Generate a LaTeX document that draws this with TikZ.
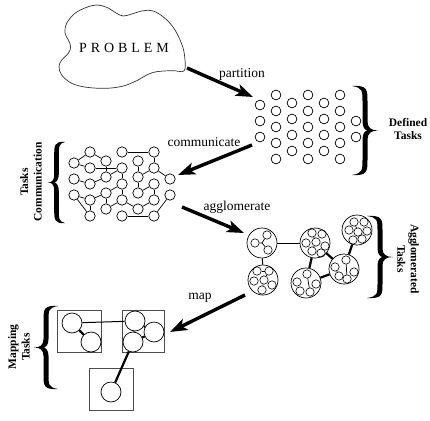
\documentclass[tikz,border=0pt]{standalone}
\usepackage{fontspec}
\setmainfont{Liberation Serif}
\newfontfamily\spacedfont[LetterSpace=28]{Liberation Serif}
\usetikzlibrary{arrows.meta}
\newcommand\drawbrace[5]{% #1 x of ends, #2 y top, #3 y bottom, #4 signed width, #5 signed thickness
  \pgfmathsetmacro\bH{#3-#2}%
  \pgfmathsetmacro\bo{#1+0.5*#4+0.5*#5}%
  \pgfmathsetmacro\bi{#1+0.5*#4-0.5*#5}%
  \pgfmathsetmacro\bc{#1+0.5*#4}%
  \pgfmathsetmacro\btip{#1+#4}%
  \pgfmathsetmacro\bq{#1+0.75*#4}%
  \pgfmathsetmacro\bmid{#2+0.5*\bH}%
  \fill[black] (#1,#2)
    .. controls (\bo,{#2-0.01*\bH}) and (\bo,{#2+0.04*\bH}) .. (\bo,{#2+0.18*\bH})
    -- (\bo,{#2+0.40*\bH})
    .. controls (\bo,{#2+0.47*\bH}) and (\bq,\bmid) .. (\btip,\bmid)
    .. controls (\bq,\bmid) and (\bo,{#2+0.53*\bH}) .. (\bo,{#2+0.60*\bH})
    -- (\bo,{#2+0.82*\bH})
    .. controls (\bo,{#2+0.96*\bH}) and (\bo,{#3+0.01*\bH}) .. (#1,#3)
    .. controls (\bi,{#3-0.02*\bH}) and (\bi,{#2+0.95*\bH}) .. (\bi,{#2+0.82*\bH})
    -- (\bi,{#2+0.60*\bH})
    .. controls (\bi,{#2+0.54*\bH}) and (\bc,\bmid) .. (\bo,\bmid)
    .. controls (\bc,\bmid) and (\bi,{#2+0.46*\bH}) .. (\bi,{#2+0.40*\bH})
    -- (\bi,{#2+0.18*\bH})
    .. controls (\bi,{#2+0.05*\bH}) and (\bi,{#2+0.02*\bH}) .. (#1,#2) -- cycle;
}
\begin{document}
\begin{tikzpicture}[x=1pt,y=-1pt,
  task/.style={circle, draw, line width=0.7pt, minimum size=9.8pt, inner sep=0pt},
  ctask/.style={circle, draw, line width=0.7pt, minimum size=10.4pt, inner sep=0pt},
  sub/.style={circle, draw, line width=0.6pt, minimum size=8.4pt, inner sep=0pt},
  cluster/.style={circle, draw, line width=0.7pt, minimum size=30pt, inner sep=0pt},
  proc/.style={circle, draw, line width=0.7pt, minimum size=20pt, inner sep=0pt},
  procbox/.style={draw=black!70, line width=0.9pt},
  bigarrow/.style={line width=3.4pt, -{Stealth[length=17pt,width=12pt,inset=4pt]}},
  lab/.style={font=\fontsize{13.5}{16}\selectfont},
  side/.style={font=\bfseries\fontsize{11.5}{13.5}\selectfont, align=center},
  comm/.style={line width=0.7pt},
  thn/.style={line width=1pt},
  thk/.style={line width=2.2pt},
]
\useasboundingbox (0,0) rectangle (430,420);

% ---- problem cloud
\draw[line width=0.7pt, black!80] plot[smooth cycle, tension=0.6] coordinates {
 (65,33) (66.7,23.3) (75,13.3) (86.7,7.3) (96.7,5) (106.7,7.3) (116.7,13.3) (123.3,16)
 (131.7,14) (143.3,10.7) (153.3,11) (165,18.3) (175,30) (182.7,46.7) (185,60) (185,69)
 (181.7,71.7) (173.3,70.7) (156.7,71.7) (146.7,75) (136.7,80.7) (123.3,86) (106.7,88.3)
 (86.7,87.3) (71.7,83.3) (61.7,75) (59,66.7) (61.7,60) (68.3,53.3) (70.7,46.7) (68.3,40)};
\node[font=\spacedfont\fontsize{14}{16}\selectfont] (problem) at (124,48) {PROBLEM};

% ---- defined tasks
\foreach \c/\x in {2/276,4/308,6/340}
  \foreach \r/\y in {1/95,2/111,3/127,4/143,5/159}
    \node[task] (d\c\r) at (\x,\y) {};
\foreach \c/\x in {3/292,5/324}
  \foreach \r/\y in {1/103,2/119,3/135,4/151}
    \node[task] (d\c\r) at (\x,\y) {};
\foreach \r/\y in {1/105,2/121,3/137}
  \node[task] (d1\r) at (260,\y) {};
\foreach \r/\y in {1/121,2/137}
  \node[task] (d7\r) at (356,\y) {};
\drawbrace{352}{86}{175}{26}{5}
\node[side] (ldef) at (408,129) {Defined\\Tasks};

% ---- communication
\foreach \c/\x in {2/90,4/122,6/154}
  \foreach \r/\y in {1/152,2/168,3/184,4/200,5/216}
    \node[ctask] (k\c\r) at (\x,\y) {};
\foreach \c/\x in {3/106,5/138}
  \foreach \r/\y in {1/161,2/177,3/193,4/209}
    \node[ctask] (k\c\r) at (\x,\y) {};
\foreach \r/\y in {1/163,2/179,3/195}
  \node[ctask] (k1\r) at (74,\y) {};
\foreach \r/\y in {1/179,2/195}
  \node[ctask] (k7\r) at (170,\y) {};
\foreach \a/\b in {k11/k21,k21/k31,k11/k22,k22/k42,k41/k61,k12/k23,k23/k32,k32/k42,
  k42/k43,k51/k52,k52/k62,k62/k71,k52/k53,k13/k24,k13/k25,k24/k33,k33/k34,k33/k43,
  k63/k64,k44/k54,k45/k65,k65/k72,k34/k44,k31/k32,k24/k25,k53/k63,k43/k44,k61/k62,k64/k54}
  \draw[comm] (\a) -- (\b);
\drawbrace{65}{142}{223}{-17}{-4.6}
\node[side, rotate=90] (lcom) at (31,182) {Tasks\\Communication};

% ---- agglomerated
\node[cluster] (agA) at (262,243) {};
\node[cluster] (agB) at (263,280) {};
\node[cluster] (agC) at (315,243) {};
\node[cluster] (agD) at (357,230) {};
\node[cluster] (agE) at (344,269) {};
\node[cluster] (agF) at (306,283) {};
\draw[thn] (agA) -- (agC);
\draw[thn] (agA) -- (agB);
\draw[thk] (agC) -- (agF);
\draw[thk] (agC) -- (agE);
\draw[thk] (agD) -- (agE);
\draw[thk] (agF) -- (agE);
% inside A
\node[sub] (a1) at (255,243) {};
\node[sub] (a2) at (267,235) {};
\node[sub] (a3) at (268,250) {};
\coordinate (aj) at (262,243);
\draw[comm] (a1) -- (aj) -- (a2);
\draw[comm] (aj) -- (a3);
% inside B
\node[sub] (b1) at (257,271) {};
\node[sub] (b2) at (269,271) {};
\node[sub] (b3) at (254,281) {};
\node[sub] (b4) at (264,280) {};
\node[sub] (b5) at (272,285) {};
\node[sub] (b6) at (262,290) {};
\draw[comm] (b1) -- (b2);
\draw[comm] (b2) -- (b4);
\draw[comm] (b4) -- (b6);
% inside C
\node[sub] (c1) at (312,233) {};
\node[sub] (c2) at (322,234) {};
\node[sub] (c3) at (306,243) {};
\node[sub] (c4) at (316,242) {};
\node[sub] (c5) at (325,246) {};
\node[sub] (c6) at (312,251) {};
\node[sub] (c7) at (321,253) {};
\draw[comm] (c1) -- (c4);
\draw[comm] (c4) -- (c6);
% inside D
\node[sub] (d1x) at (354,222) {};
\node[sub] (d2x) at (364,222) {};
\node[sub] (d3x) at (349,230) {};
\node[sub] (d4x) at (358,232) {};
\node[sub] (d5x) at (367,231) {};
\node[sub] (d6x) at (353,240) {};
\node[sub] (d7x) at (362,239) {};
\draw[comm] (d1x) -- (d4x);
\draw[comm] (d4x) -- (d7x);
% inside E
\node[sub] (e1) at (346,260) {};
\node[sub] (e2) at (335,267) {};
\node[sub] (e3) at (339,276) {};
\node[sub] (e4) at (354,272) {};
\node[sub] (e5) at (347,279) {};
\draw[comm] (e1) -- (e5);
\draw[comm] (e2) -- (e3);
% inside F
\node[sub] (f1) at (307,274) {};
\node[sub] (f2) at (297,282) {};
\node[sub] (f3) at (300,291) {};
\node[sub] (f4) at (310,292) {};
\node[sub] (f5) at (316,284) {};
\draw[comm] (f1) -- (f4);
\drawbrace{367}{216}{298}{26}{5}
\node[side, rotate=-90] (lagl) at (408,259) {Agglomerated\\Tasks};

% ---- mapping
\draw[procbox] (57,310) rectangle (101,352);
\draw[procbox] (122,310) rectangle (164,352);
\draw[procbox] (89,368) rectangle (133,410);
\node[proc] (p1) at (72,323) {};
\node[proc] (p2) at (91,342) {};
\node[proc] (q1) at (135,321) {};
\node[proc] (q2) at (154,332) {};
\node[proc] (q3) at (133,342) {};
\node[proc] (s1) at (111,392) {};
\draw[thk] (p1) -- (p2);
\draw[thk] (q1) -- (q2);
\draw[thk] (q1) -- (q3);
\draw[thk] (q3) -- (q2);
\draw[thk] (q3) -- (s1);
\draw[thn] (p1) -- (q1);
\drawbrace{58}{306}{389}{-24}{-5}
\node[side, rotate=90] (lmapt) at (19,347) {Mapping\\Tasks};

% ---- arrows
\coordinate (pa1) at (187,68);  \coordinate (pa2) at (253,97);
\coordinate (ca1) at (252,145); \coordinate (ca2) at (178,175);
\coordinate (ga1) at (182,207); \coordinate (ga2) at (244,233);
\coordinate (ma1) at (245,295); \coordinate (ma2) at (170,332);
\draw[bigarrow] (pa1) -- (pa2);
\draw[bigarrow] (ca1) -- (ca2);
\draw[bigarrow] (ga1) -- (ga2);
\draw[bigarrow] (ma1) -- (ma2);
\node[lab] (lpart) at (242,74) {partition};
\node[lab] (lcomm) at (204,142) {communicate};
\node[lab] (lagg) at (237,207) {agglomerate};
\node[lab] (lmap) at (200,298) {map};
\end{tikzpicture}
\end{document}
